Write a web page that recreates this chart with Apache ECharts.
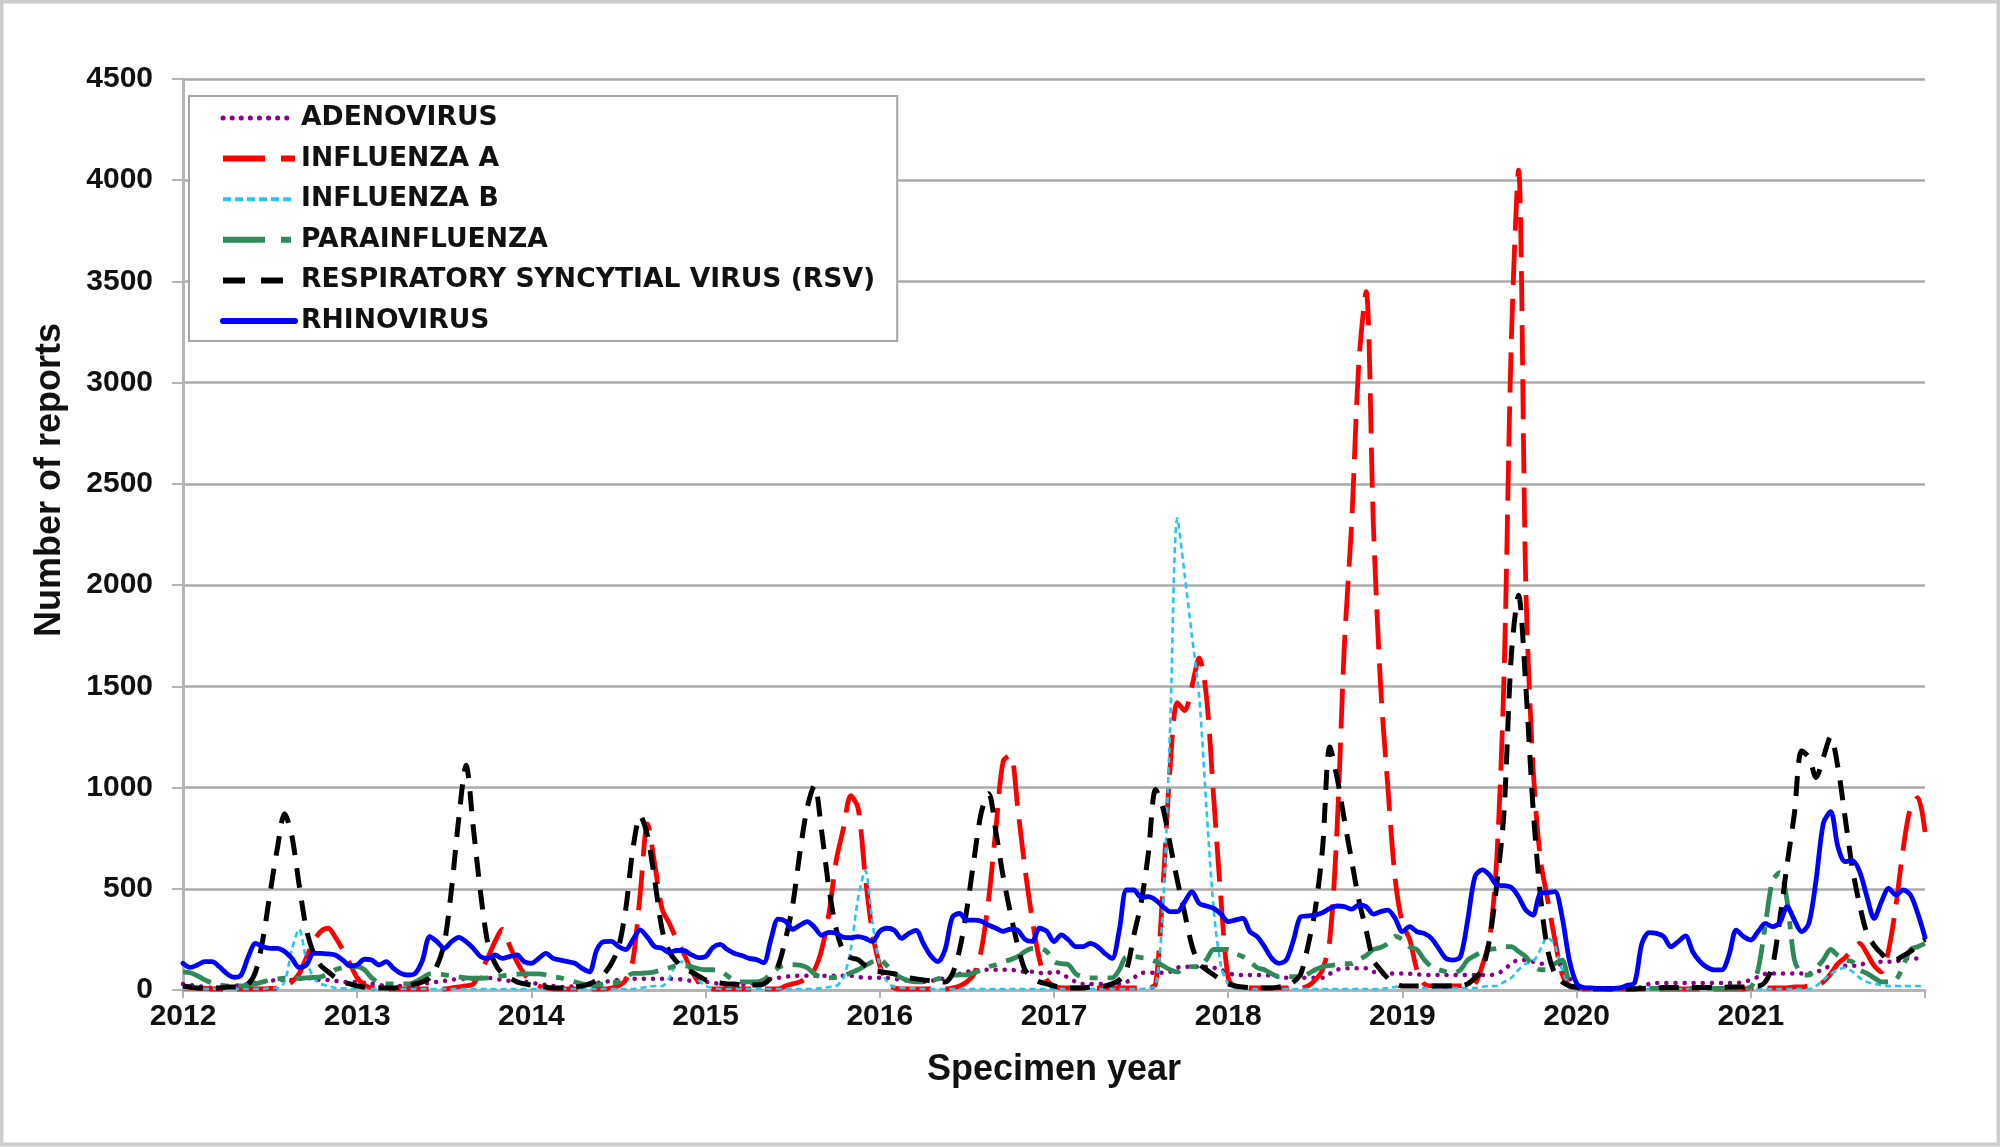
<!DOCTYPE html>
<html>
<head>
<meta charset="utf-8">
<script src="https://cdn.jsdelivr.net/npm/echarts@6/dist/echarts.min.js"></script>
<style>
html,body{margin:0;padding:0;background:#fff;}
#chart{width:2000px;height:1147px;}
</style>
</head>
<body>
<div id="chart"></div>
<script>
// Semi-monthly values (24 per year), 2012.0 .. 2022.0
const startYear = 2012;
const pointsPerYear = 24;
const yearTicks = [2012, 2013, 2014, 2015, 2016, 2017, 2018, 2019, 2020, 2021];
const seriesNames = ['ADENOVIRUS', 'INFLUENZA A', 'INFLUENZA B', 'PARAINFLUENZA', 'RESPIRATORY SYNCYTIAL VIRUS (RSV)', 'RHINOVIRUS'];

const adenovirus = [
  30,25,20,15,10,10,15,20,25,30,35,40,45,50,50,50,55,60,55,50,50,45,40,40,
  40,35,30,25,20,20,20,20,25,30,35,40,45,50,55,55,55,60,60,55,50,45,40,40,
  35,30,25,20,15,15,20,25,30,35,40,45,50,55,55,55,55,55,55,55,55,50,45,40,
  40,35,30,25,25,25,30,35,45,55,60,65,70,70,70,70,70,70,70,70,70,65,60,60,
  60,60,55,50,45,40,40,45,50,60,70,80,90,95,100,100,100,100,100,95,90,90,85,80,
  95,80,60,40,30,30,30,30,30,30,40,60,85,85,85,85,90,110,115,115,115,115,110,100,
  85,74,74,74,74,74,70,65,60,60,60,60,60,60,80,100,107,107,107,107,90,82,82,82,
  82,80,78,74,74,74,74,74,74,74,74,74,74,80,100,130,148,148,140,130,130,130,120,60,
  20,10,8,8,8,8,8,8,10,15,30,35,35,35,35,35,35,35,35,35,35,35,35,40,
  50,65,80,82,82,82,82,82,82,90,100,120,120,120,120,120,140,140,140,140,140,155,155,155,
  155
];

const influenzaA = [
  10,10,8,8,5,5,5,5,5,5,5,5,8,10,20,40,80,160,240,290,305,260,200,130,
  60,25,10,5,5,5,5,5,5,5,5,5,5,10,15,20,30,90,160,240,300,220,140,80,
  40,20,10,5,5,5,5,5,5,5,5,10,20,50,150,480,820,620,400,330,250,180,100,40,
  10,5,5,5,5,5,5,5,5,5,5,20,30,40,60,100,200,380,640,800,960,900,560,280,
  120,40,10,5,5,5,5,5,5,5,10,20,40,80,200,450,800,1130,1160,900,600,350,150,50,
  20,10,10,10,10,10,10,10,10,10,10,10,10,10,30,500,1100,1420,1380,1500,1640,1450,950,450,
  60,15,10,10,10,10,10,10,10,10,10,20,50,100,250,800,1700,2300,3100,3450,2300,1500,1000,550,
  330,250,100,30,20,20,20,20,20,20,30,120,250,650,1550,3200,4050,2000,1100,650,450,250,80,20,
  10,5,5,5,5,5,5,5,5,5,5,5,5,5,5,5,5,5,5,5,5,5,5,5,
  10,10,10,10,10,10,15,15,20,25,40,80,130,160,200,230,180,120,90,200,420,700,900,950,
  780
];

const influenzaB = [
  5,5,5,5,5,5,5,5,5,5,5,5,10,10,40,200,300,150,60,30,20,10,8,5,
  5,5,5,5,5,5,5,5,5,5,5,5,5,5,5,5,5,5,5,5,5,5,5,5,
  5,5,5,5,5,5,5,5,5,5,5,5,5,5,5,10,15,20,20,60,130,140,100,50,
  20,10,5,5,5,5,5,5,5,5,5,5,5,5,5,5,10,15,20,60,200,450,590,330,
  120,40,15,10,8,8,5,5,5,5,5,5,5,5,5,5,5,5,5,5,5,5,5,5,
  5,5,5,5,5,5,5,5,5,5,5,5,5,10,20,400,1300,2330,2050,1750,1450,900,400,120,
  30,10,5,5,5,5,5,5,5,5,5,5,5,5,5,5,5,5,5,5,5,5,10,15,
  20,20,15,10,10,10,10,10,10,10,10,15,20,20,40,60,100,130,140,200,260,220,100,20,
  5,5,5,5,5,5,5,5,5,5,5,5,5,5,5,5,5,5,5,5,5,5,5,5,
  5,5,5,5,5,5,5,5,5,20,50,80,100,110,90,60,40,30,25,20,20,20,20,20,
  15
];

const parainfluenza = [
  90,85,70,50,35,25,20,20,20,25,30,40,50,55,58,58,58,60,62,65,80,100,110,115,
  115,100,60,35,30,30,30,30,40,60,80,80,75,70,65,60,58,58,60,65,70,75,78,80,
  80,80,75,65,60,50,40,30,25,25,30,35,40,60,82,82,85,90,100,110,120,120,115,105,
  100,100,95,70,45,40,40,40,50,80,110,123,125,123,110,80,62,60,62,70,85,100,120,140,
  150,120,80,60,45,40,40,45,55,65,72,75,75,85,100,115,125,140,150,165,190,205,205,190,
  140,130,125,80,65,60,60,60,60,100,165,165,160,156,140,120,100,90,110,115,115,150,200,200,
  200,180,165,140,110,100,80,66,66,66,66,80,100,115,120,125,130,130,150,170,200,210,230,265,
  250,214,200,150,115,100,90,82,100,148,170,190,200,205,214,214,190,165,120,100,100,130,148,40,
  10,8,8,8,8,8,8,8,8,8,8,8,8,8,8,8,8,8,8,8,8,8,8,10,
  15,100,320,540,580,440,150,80,74,110,150,200,170,148,140,100,82,60,40,40,50,120,200,214,
  230
];

const rsv = [
  20,15,10,10,10,10,15,15,20,30,90,250,480,700,870,760,520,300,180,120,90,60,40,30,
  20,15,10,10,10,10,15,20,30,40,60,120,230,500,850,1110,800,480,230,130,80,60,40,30,
  25,20,15,10,10,10,15,20,30,50,80,130,210,400,700,860,760,540,300,190,140,110,90,70,
  50,40,35,30,30,25,25,25,30,60,120,250,420,680,900,1010,780,500,300,190,160,150,120,95,
  90,85,80,70,60,55,50,45,40,40,80,200,400,650,880,970,780,560,380,220,100,60,40,30,
  20,15,10,10,10,15,15,20,30,50,100,270,430,675,990,900,720,540,380,220,130,100,75,50,
  30,20,15,12,10,10,10,15,20,40,80,220,400,700,1200,1050,840,640,445,296,148,99,58,33,
  20,20,20,20,20,20,20,20,20,30,60,100,250,520,880,1650,1950,1500,900,470,200,80,40,20,
  15,5,5,5,5,5,5,5,5,8,10,10,12,12,12,12,12,12,12,12,12,15,15,15,
  20,20,40,120,350,620,870,1180,1150,1050,1150,1250,1100,850,600,420,280,220,180,150,150,170,190,220,
  250
];

const rhinovirus = [
  132,112,124,140,140,115,82,63,74,165,230,214,206,206,190,156,112,124,181,181,178,173,148,119,
  124,152,148,124,140,107,82,74,82,148,264,239,206,239,260,239,206,165,156,173,156,165,173,140,
  132,156,181,156,148,140,132,107,90,198,239,240,215,200,250,297,260,214,206,185,195,195,175,160,
  165,210,225,200,180,170,156,150,135,250,350,340,300,320,338,310,270,285,280,260,258,264,255,240,
  290,305,295,255,280,295,230,170,140,200,360,378,345,345,340,320,305,290,300,295,250,240,305,290,
  239,272,247,214,214,230,214,181,156,296,494,494,458,461,445,412,387,387,436,486,428,415,403,375,
  338,346,354,288,264,214,156,132,148,247,362,366,370,382,403,415,412,399,420,412,375,387,395,354,
  288,313,288,280,255,206,156,148,165,346,560,593,568,519,515,507,461,395,370,478,481,486,362,148,
  33,12,10,8,8,8,10,23,36,230,283,280,264,214,239,267,189,140,112,99,99,173,296,264,
  247,288,329,313,333,412,346,288,329,544,824,881,708,634,639,585,461,354,436,502,469,494,469,379,
  260
];

function toPairs(values) {
  return values.map((v, i) => [startYear + i / pointsPerYear, v]);
}

const styles = [
  { color: '#8B008B', width: 4.5, type: [0.1, 9], cap: 'round', legendWidth: 5, legendType: [0.1, 9] },
  { color: '#FF0000', width: 4.8, type: [40, 14], cap: 'butt', legendWidth: 6, legendType: [42, 16] },
  { color: '#22C8F2', width: 2.6, type: [6, 4], cap: 'butt', legendWidth: 4, legendType: [8, 4] },
  { color: '#2E8B57', width: 4.8, type: [30, 10, 8, 10], cap: 'butt', legendWidth: 6, legendType: [42, 16, 10, 10] },
  { color: '#000000', width: 5, type: [20, 13], cap: 'butt', legendWidth: 6, legendType: [22, 16] },
  { color: '#0000FF', width: 4.8, type: 'solid', cap: 'round', legendWidth: 6, legendType: 'solid' }
];
const dataSets = [adenovirus, influenzaA, influenzaB, parainfluenza, rsv, rhinovirus];

const series = seriesNames.map((name, idx) => ({
  name: name,
  type: 'line',
  data: toPairs(dataSets[idx]),
  showSymbol: false,
  symbol: 'none',
  smooth: 0.3,
  z: 2 + idx,
  lineStyle: {
    color: styles[idx].color,
    width: styles[idx].width,
    type: styles[idx].type,
    cap: styles[idx].cap,
    join: 'round'
  },
  itemStyle: { color: styles[idx].color }
}));

const legendData = seriesNames.map((name, idx) => ({
  name: name,
  itemStyle: { opacity: 0 },
  lineStyle: {
    color: styles[idx].color,
    width: styles[idx].legendWidth,
    type: styles[idx].legendType,
    cap: styles[idx].cap
  }
}));

const chart = echarts.init(document.getElementById('chart'), null, { renderer: 'canvas' });
chart.setOption({
  animation: false,
  backgroundColor: '#ffffff',
  grid: { left: 183, right: 75, top: 79, bottom: 157, containLabel: false },
  xAxis: {
    type: 'value',
    min: 2012,
    max: 2022,
    interval: 1,
    name: 'Specimen year',
    nameLocation: 'middle',
    nameGap: 62,
    nameTextStyle: { fontFamily: 'Liberation Sans, Arial, sans-serif', fontWeight: 'bold', fontSize: 36, color: '#111' },
    axisLine: { show: true, lineStyle: { color: '#b4b4b4', width: 3 } },
    axisTick: { show: true, length: 8, lineStyle: { color: '#b4b4b4', width: 2 } },
    splitLine: { show: false },
    axisLabel: {
      margin: 12,
      fontFamily: 'Liberation Sans, Arial, sans-serif',
      fontWeight: 'bold',
      fontSize: 30,
      color: '#111',
      formatter: function (v) { return yearTicks.indexOf(v) >= 0 ? String(v) : ''; }
    }
  },
  yAxis: {
    type: 'value',
    min: 0,
    max: 4500,
    interval: 500,
    axisLine: { show: true, lineStyle: { color: '#b4b4b4', width: 3 } },
    axisTick: { show: true, length: 11, lineStyle: { color: '#b4b4b4', width: 2 } },
    splitLine: { show: true, lineStyle: { color: '#ababab', width: 2.5 } },
    axisLabel: {
      margin: 30,
      fontFamily: 'Liberation Sans, Arial, sans-serif',
      fontWeight: 'bold',
      fontSize: 30,
      color: '#111',
      formatter: function (v) { return String(v); }
    }
  },
  legend: {
    orient: 'vertical',
    left: 189,
    top: 96,
    padding: [7, 22, 5, 31],
    itemGap: 10.6,
    itemWidth: 72,
    itemHeight: 14,
    backgroundColor: '#ffffff',
    borderColor: '#a6a6a6',
    borderWidth: 2,
    itemStyle: { opacity: 0 },
    data: legendData,
    textStyle: {
      fontFamily: 'DejaVu Sans, sans-serif',
      fontWeight: 'bold',
      fontSize: 26.6,
      lineHeight: 30,
      color: '#111',
      padding: [0, 0, 0, 1]
    }
  },
  graphic: [
    {
      type: 'rect',
      silent: true,
      z: 100,
      shape: { x: 1.5, y: 1.5, width: 1997, height: 1143 },
      style: { fill: 'none', stroke: '#cccccc', lineWidth: 4 }
    },
    {
      type: 'text',
      silent: true,
      x: 50,
      y: 480,
      rotation: Math.PI / 2,
      style: {
        text: 'Number of reports',
        fontFamily: 'Liberation Sans, Arial, sans-serif',
        fontWeight: 'bold',
        fontSize: 36,
        fill: '#111',
        align: 'center',
        verticalAlign: 'middle'
      }
    }
  ],
  series: series
});
</script>
</body>
</html>
